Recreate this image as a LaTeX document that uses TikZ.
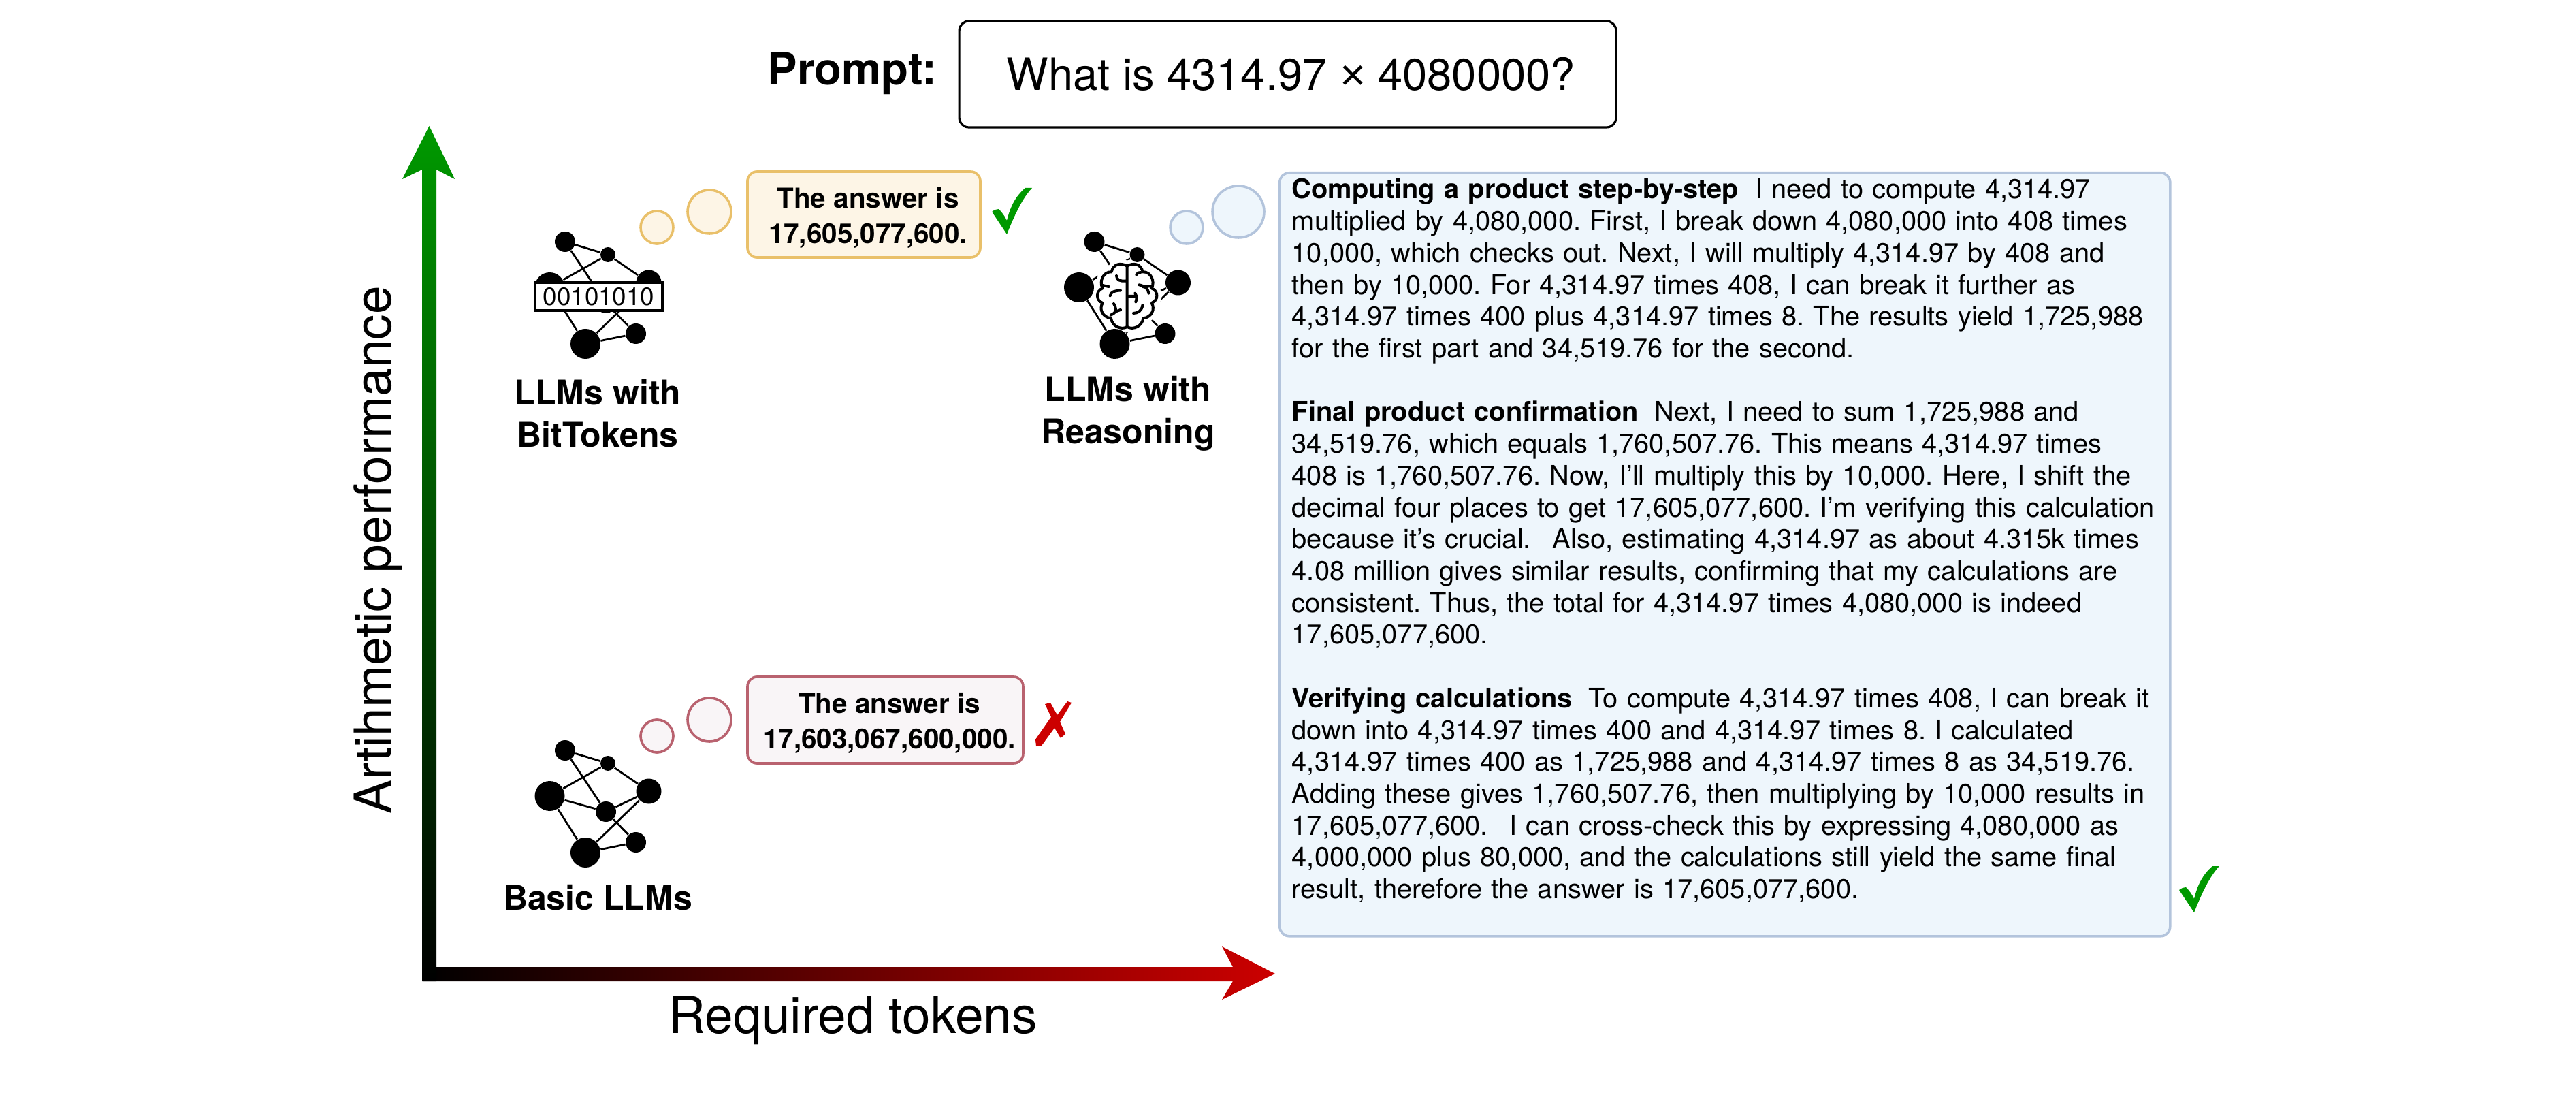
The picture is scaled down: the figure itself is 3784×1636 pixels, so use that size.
\documentclass[tikz,border=0pt]{standalone}
\usepackage{fontspec}
\setmainfont{TeX Gyre Heros}
\newfontfamily\libfont{Liberation Sans}
\usetikzlibrary{backgrounds}
\hyphenpenalty=10000
\definecolor{grn}{HTML}{009900}
\definecolor{rd}{HTML}{CC0000}
\definecolor{yfill}{HTML}{FDF5E6}
\definecolor{yline}{HTML}{E9C06A}
\definecolor{rfill}{HTML}{F9F5F7}
\definecolor{rline}{HTML}{B9626F}
\definecolor{bfill}{HTML}{EEF6FC}
\definecolor{bline}{HTML}{B3C4DC}
\tikzset{
  dot/.style={circle,fill=black,inner sep=0pt,minimum size=#1*0.5pt},
  edge/.style={draw=black,line width=0.7pt},
  panel/.style={draw,rounded corners=3.5pt,line width=0.9pt,inner sep=0pt,align=center},
  bubble/.style={circle,draw,line width=0.9pt,inner sep=0pt,minimum size=#1*0.5pt},
  lab/.style={font=\bfseries\fontsize{12.5}{15.5}\selectfont,align=center,inner sep=0pt},
  ans/.style={font=\bfseries\fontsize{10.1}{13}\selectfont},
  axis/.style={font=\fontsize{18.7}{22}\selectfont,inner sep=0pt}
}
\newcommand{\llmnet}[3]{%
  \node[dot=15] (#1a) at (#2+830,#3+1102) {};
  \node[dot=11] (#1b) at (#2+893,#3+1121) {};
  \node[dot=22] (#1c) at (#2+807.5,#3+1169) {};
  \node[dot=18.5] (#1d) at (#2+953,#3+1162) {};
  \node[dot=15] (#1e) at (#2+890,#3+1192) {};
  \node[dot=22] (#1f) at (#2+860,#3+1252) {};
  \node[dot=15] (#1g) at (#2+934,#3+1237) {};
  \begin{pgfonlayer}{background}
  \draw[edge] (#1a)--(#1b) (#1a)--(#1e) (#1b)--(#1c) (#1b)--(#1d) (#1c)--(#1e)
    (#1c)--(#1f) (#1d)--(#1e) (#1d)--(#1f) (#1e)--(#1g) (#1f)--(#1g);
  \end{pgfonlayer}
}
\newcommand{\chk}[2]{%
  \fill[grn,shift={(#1,#2)}] (0,0) -- (-22,-33) .. controls (-18,-36) and (-15,-37) .. (-12,-37)
    .. controls (-8,-33) and (-3,-27) .. (0,-20)
    .. controls (5,-40) and (12,-55) .. (27,-68) -- (37,-68)
    .. controls (23,-53) and (12,-30) .. (0,0) -- cycle;
}
\newcommand{\brainpath}{(197,62)
  .. controls (225,46) and (258,52) .. (266,88)
  .. controls (300,85) and (322,128) .. (305,160)
  .. controls (336,172) and (336,213) .. (305,225)
  .. controls (322,252) and (305,288) .. (268,292)
  .. controls (264,326) and (225,346) .. (197,330)
  .. controls (169,346) and (130,326) .. (126,292)
  .. controls (89,288) and (72,252) .. (89,225)
  .. controls (58,213) and (58,172) .. (89,160)
  .. controls (72,128) and (94,85) .. (128,88)
  .. controls (136,52) and (169,46) .. (197,62) -- cycle}
\begin{document}
\begin{tikzpicture}[x=0.25pt,y=-0.25pt]
\useasboundingbox (0,0) rectangle (3784,1636);
% axes
\shade[left color=black,right color=rd] (621,1420) -- (1811,1420) -- (1795,1390) -- (1873,1430) -- (1795,1468) -- (1811,1441) -- (621,1441) -- cycle;
\shade[bottom color=black,top color=grn] (620,1441) -- (620,249) -- (591,263) -- (630.5,185) -- (668,263) -- (641,249) -- (641,1441) -- cycle;
\node[axis] (xlab) at (1253,1498) {Required tokens};
\node[axis,rotate=90] (ylab) at (555,808) {Artihmetic performance};
% prompt
\node[font=\bfseries\fontsize{16.3}{20}\selectfont,inner sep=0pt] (plab) at (1252,108) {Prompt:};
\node[panel,draw=black,line width=0.8pt,minimum width=241.2pt,minimum height=39pt,font=\fontsize{16.3}{20}\selectfont] (prompt) at (1891.5,109) {\hspace{2.5pt}What is 4314.97 {\libfont ×} 4080000?};
% networks
\llmnet{p}{0}{0}
\llmnet{q}{0}{-747}
\llmnet{r}{777.5}{-747}
% bit box
\node[draw=black,fill=white,line width=0.8pt,inner sep=0pt,minimum width=46.75pt,minimum height=10.25pt,font=\fontsize{9.2}{11}\selectfont] (bits) at (879.5,435.5) {00101010};
% brain
\begin{scope}[shift={(1590,370)},x=0.08333pt,y=-0.08333pt]
  \begin{pgfonlayer}{background}
  \draw[white,fill=white,line width=3.6pt] \brainpath;
  \end{pgfonlayer}
  \draw[black,fill=white,line width=1pt,line join=round] \brainpath;
  \draw[black,line width=1pt,line cap=round]
    (197,62)--(197,330)
    (150,105) .. controls (150,125) and (170,130) .. (190,128)
    (168,170) .. controls (145,170) and (125,175) .. (122,193)
    (138,228) .. controls (150,250) and (155,265) .. (125,278)
    (168,255) -- (148,262)
    (84,146) -- (116,153)
    (238,100) .. controls (242,92) and (248,90) .. (256,90)
    (250,145) .. controls (275,150) and (288,160) .. (292,182)
    (303,150) -- (268,154)
    (205,195) -- (235,195)
    (232,182) .. controls (240,195) and (240,205) .. (235,220)
    (265,235) .. controls (262,258) and (245,270) .. (225,270);
\end{scope}
% bubbles and answers
\node[bubble=24,draw=yline,fill=yfill] (ys) at (965,334) {};
\node[bubble=32,draw=yline,fill=yfill] (yb) at (1042,311) {};
\node[panel,ans,draw=yline,fill=yfill,minimum width=85.5pt,minimum height=31.5pt] (yans) at (1269,315) {\rule{0pt}{10pt}\hspace{3pt}The answer is\\\hspace{3pt}17,605,077,600.};
\chk{1479}{344}
\node[bubble=24,draw=rline,fill=rfill] (rs) at (965,1081) {};
\node[bubble=32,draw=rline,fill=rfill] (rb) at (1042,1057) {};
\node[panel,ans,draw=rline,fill=rfill,minimum width=101.25pt,minimum height=31.75pt] (rans) at (1300.5,1057.5) {\rule{0pt}{10pt}\hspace{3pt}The answer is\\\hspace{3pt}17,603,067,600,000.};
\fill[rd] (1535,1034) -- (1543,1032) -- (1553,1050) -- (1568,1030) -- (1574,1032) -- (1557,1060) -- (1565,1078) -- (1558,1084) -- (1549,1069) -- (1530,1095) -- (1522,1096) -- (1521,1086) -- (1544,1053) -- cycle;
\node[bubble=24,draw=bline,fill=bfill] (bs) at (1743,334) {};
\node[bubble=38,draw=bline,fill=bfill] (bb) at (1819,311) {};
% labels
\node[lab] (l1) at (878,607) {LLMs with\\BitTokens};
\node[lab] (l2) at (1657,607) {LLMs with\\Reasoning};
\node[lab] (l3) at (878,1318) {Basic LLMs};
% reasoning panel
\node[panel,draw=bline,fill=bfill,anchor=north west,align=left,text width=318pt,inner xsep=4.5pt,inner ysep=0pt,minimum height=280.25pt,font=\frenchspacing\fontsize{9.96}{11.68}\selectfont] (reason) at (1878,252) {%
\textbf{Computing a product step-by-step}\hspace{0.6em}I need to compute 4,314.97\\
multiplied by 4,080,000. First, I break down 4,080,000 into 408 times\\
10,000, which checks out. Next, I will multiply 4,314.97 by 408 and\\
then by 10,000. For 4,314.97 times 408, I can break it further as\\
4,314.97 times 400 plus 4,314.97 times 8. The results yield 1,725,988\\
for the first part and 34,519.76 for the second.\\[11.68pt]
\textbf{Final product confirmation}\hspace{0.6em}Next, I need to sum 1,725,988 and\\
34,519.76, which equals 1,760,507.76. This means 4,314.97 times\\
408 is 1,760,507.76. Now, I'll multiply this by 10,000. Here, I shift the\\
decimal four places to get 17,605,077,600. I'm verifying this calculation\\
because it’s crucial.\hspace{0.8em}Also, estimating 4,314.97 as about 4.315k times\\
4.08 million gives similar results, confirming that my calculations are\\
consistent. Thus, the total for 4,314.97 times 4,080,000 is indeed\\
17,605,077,600.\\[11.68pt]
\textbf{Verifying calculations}\hspace{0.6em}To compute 4,314.97 times 408, I can break it\\
down into 4,314.97 times 400 and 4,314.97 times 8. I calculated\\
4,314.97 times 400 as 1,725,988 and 4,314.97 times 8 as 34,519.76.\\
Adding these gives 1,760,507.76, then multiplying by 10,000 results in\\
17,605,077,600.\hspace{0.8em}I can cross-check this by expressing 4,080,000 as\\
4,000,000 plus 80,000, and the calculations still yield the same final\\
result, therefore the answer is 17,605,077,600.\\\mbox{}};
\chk{3223}{1340}
\end{tikzpicture}
\end{document}
